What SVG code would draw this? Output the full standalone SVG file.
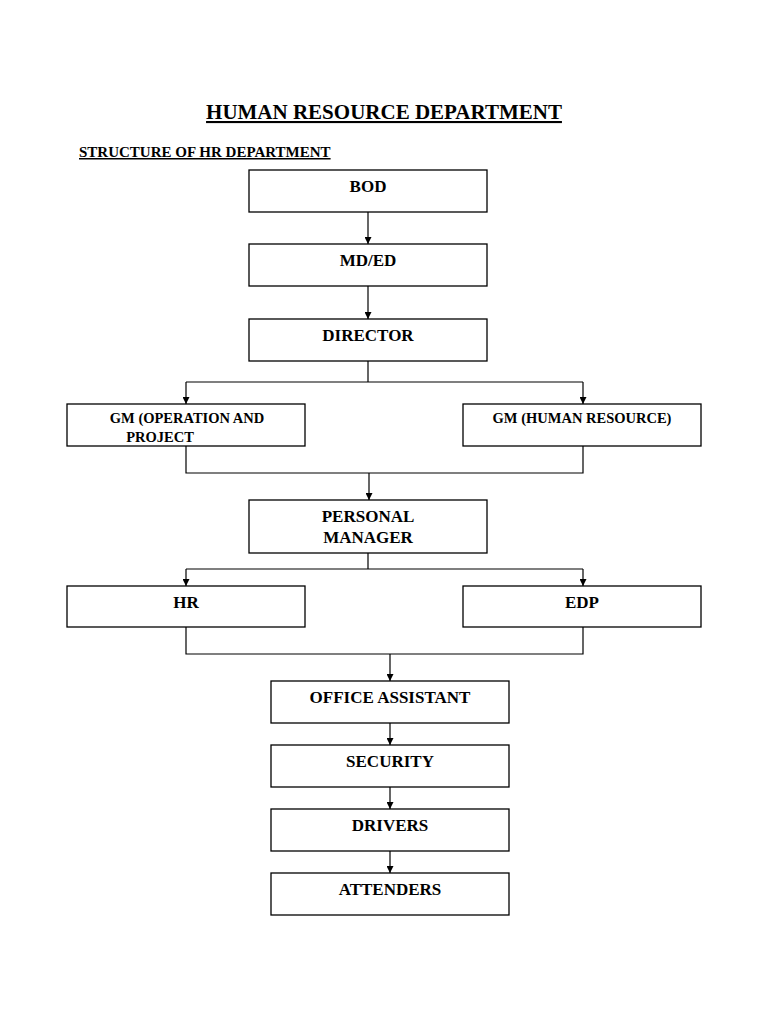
<svg xmlns="http://www.w3.org/2000/svg" width="768" height="1024" viewBox="0 0 768 1024">
<style>
text{font-family:"Liberation Serif",serif;font-weight:bold;fill:#000}
.n rect{fill:#fff;stroke:#000;stroke-width:1.3}
.n text{font-size:17px;text-anchor:middle}
.s text{font-size:14.5px}
#c path{fill:none;stroke:#000;stroke-width:1.2}
</style>
<defs><marker id="a" viewBox="0 0 10 10" refX="10" refY="5" markerWidth="7" markerHeight="7" markerUnits="userSpaceOnUse" orient="auto"><path d="M0,0L10,5L0,10z" fill="#000"/></marker></defs>
<rect width="768" height="1024" fill="#fff"/>
<text x="384" y="119" font-size="21" text-anchor="middle" text-decoration="underline">HUMAN RESOURCE DEPARTMENT</text>
<text x="79" y="157" font-size="15" text-decoration="underline">STRUCTURE OF HR DEPARTMENT</text>
<g id="c">
<path d="M368,212V244" marker-end="url(#a)"/>
<path d="M368,286V319" marker-end="url(#a)"/>
<path d="M368,361V382M186,382H583"/>
<path d="M186,382V404" marker-end="url(#a)"/>
<path d="M583,382V404" marker-end="url(#a)"/>
<path d="M186,446V473H583V446"/>
<path d="M369,473V500" marker-end="url(#a)"/>
<path d="M368,553V569M186,569H583"/>
<path d="M186,569V586" marker-end="url(#a)"/>
<path d="M583,569V586" marker-end="url(#a)"/>
<path d="M186,627V654H583V627"/>
<path d="M390,654V681" marker-end="url(#a)"/>
<path d="M390,723V745" marker-end="url(#a)"/>
<path d="M390,787V809" marker-end="url(#a)"/>
<path d="M390,851V873" marker-end="url(#a)"/>
</g>
<g id="bod" class="n"><rect x="249" y="170" width="238" height="42"/><text x="368" y="192">BOD</text></g>
<g id="mded" class="n"><rect x="249" y="244" width="238" height="42"/><text x="368" y="266">MD/ED</text></g>
<g id="director" class="n"><rect x="249" y="319" width="238" height="42"/><text x="368" y="341">DIRECTOR</text></g>
<g id="gmop" class="n s"><rect x="67" y="404" width="238" height="42"/><text x="187" y="423">GM (OPERATION AND</text><text x="160" y="442">PROJECT</text></g>
<g id="gmhr" class="n s"><rect x="463" y="404" width="238" height="42"/><text x="582" y="423">GM (HUMAN RESOURCE)</text></g>
<g id="pm" class="n"><rect x="249" y="500" width="238" height="53"/><text x="368" y="522">PERSONAL</text><text x="368" y="543">MANAGER</text></g>
<g id="hr" class="n"><rect x="67" y="586" width="238" height="41"/><text x="186" y="608">HR</text></g>
<g id="edp" class="n"><rect x="463" y="586" width="238" height="41"/><text x="582" y="608">EDP</text></g>
<g id="oa" class="n"><rect x="271" y="681" width="238" height="42"/><text x="390" y="703">OFFICE ASSISTANT</text></g>
<g id="sec" class="n"><rect x="271" y="745" width="238" height="42"/><text x="390" y="767">SECURITY</text></g>
<g id="drv" class="n"><rect x="271" y="809" width="238" height="42"/><text x="390" y="831">DRIVERS</text></g>
<g id="att" class="n"><rect x="271" y="873" width="238" height="42"/><text x="390" y="895">ATTENDERS</text></g>
</svg>
